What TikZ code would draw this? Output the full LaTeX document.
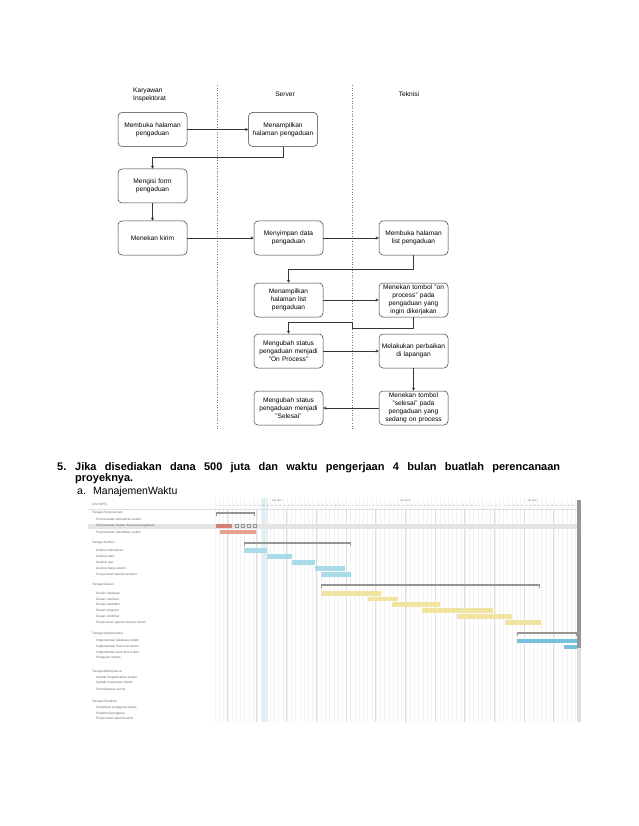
\documentclass[tikz,border=0pt]{standalone}
\usepackage{fontspec}
\setmainfont{Liberation Sans}
\usetikzlibrary{arrows.meta, positioning}
\definecolor{garis}{RGB}{55,55,55}
\definecolor{lajur}{RGB}{120,120,120}
\definecolor{kisi}{RGB}{242,242,242}
\definecolor{kisitua}{RGB}{222,222,222}
\definecolor{hariini}{RGB}{222,240,245}
\definecolor{ringkas}{RGB}{150,150,150}
\definecolor{biru}{RGB}{170,220,232}
\definecolor{birutua}{RGB}{120,192,222}
\definecolor{kuning}{RGB}{240,228,160}
\definecolor{salem}{RGB}{232,160,142}
\definecolor{salemtua}{RGB}{210,130,115}
\definecolor{sorot}{RGB}{228,228,228}
\definecolor{teksgantt}{RGB}{105,105,105}

% batang tugas dan batang ringkasan pada gantt
\newcommand{\tugas}[4]{\fill[#4] (#1,#3-2.4) rectangle (#2,#3+2.4);}
\newcommand{\ringkasan}[3]{%
  \fill[ringkas] (#1,#3-1) rectangle (#2,#3+1);
  \fill[ringkas] (#1,#3-1) rectangle (#1+1,#3+2.5);
  \fill[ringkas] (#2-1,#3-1) rectangle (#2,#3+2.5);}

\begin{document}
\begin{tikzpicture}[x=1pt, y=-1pt, >=Stealth,
  langkah/.style={draw=garis, line width=0.5pt, rounded corners=4pt, fill=white,
    minimum width=69pt, minimum height=34pt, text width=66pt, inner sep=1pt,
    align=center, font=\fontsize{6.6}{7.9}\selectfont},
  panah/.style={-{Stealth[length=3pt,width=3pt]}, garis, line width=0.5pt},
  judul/.style={font=\fontsize{6.6}{7.9}\selectfont, align=left},
  label/.style={anchor=west, inner sep=0, text=teksgantt, font=\fontsize{3.2}{3.4}\selectfont}]
\useasboundingbox (0,0) rectangle (638,826);

% =============================================================================
% SWIMLANE
% =============================================================================
\draw[lajur, dotted, line width=0.6pt] (217.5,85) -- (217.5,430);
\draw[lajur, dotted, line width=0.6pt] (352,85) -- (352,430);

\node[judul, anchor=north west, inner sep=0] (karyawan) at (133,88) {Karyawan\\Inspektorat};
\node[judul] (server) at (285,94) {Server};
\node[judul] (teknisi) at (409,94) {Teknisi};

% Karyawan Inspektorat
\node[langkah] (buka) at (152.5,129.5) {Membuka halaman\\pengaduan};
\node[langkah] (isi) at (152.5,186) {Mengisi form\\pengaduan};
\node[langkah] (kirim) at (152.5,238) {Menekan kirim};

% Server
\node[langkah] (tampil) at (283,129.5) {Menampilkan\\halaman pengaduan};
\node[langkah] (simpan) at (288.5,238) {Menyimpan data\\pengaduan};
\node[langkah] (tampillist) at (288.5,300) {Menampilkan\\halaman list\\pengaduan};
\node[langkah] (ubahon) at (288.5,351) {Mengubah status\\pengaduan menjadi\\"On Process"};
\node[langkah] (ubahselesai) at (288.5,408) {Mengubah status\\pengaduan menjadi\\"Selesai"};

% Teknisi
\node[langkah] (list) at (413.5,238) {Membuka halaman\\list pengaduan};
\node[langkah] (onproc) at (413.5,300) {Menekan tombol "on\\process" pada\\pengaduan yang\\ingin dikerjakan};
\node[langkah] (perbaikan) at (413.5,351) {Melakukan perbaikan\\di lapangan};
\node[langkah] (selesai) at (413.5,408) {Menekan tombol\\"selesai" pada\\pengaduan yang\\sedang on process};

% Alur
\coordinate (belok1) at (352,328);
\coordinate (belok2) at (352,322);
\draw[panah] (buka) -- (tampil);
\draw[panah] (tampil.south) -- ++(0,11) -| (isi.north);
\draw[panah] (isi) -- (kirim);
\draw[panah] (kirim) -- (simpan);
\draw[panah] (simpan) -- (list);
\draw[panah] (list.south) -- ++(0,14) -| (tampillist.north);
\draw[panah] (tampillist) -- (onproc);
\draw[panah] (onproc.south) |- (belok1) -- (belok2) -| (ubahon.north);
\draw[panah] (ubahon) -- (perbaikan);
\draw[panah] (perbaikan) -- (selesai);
\draw[panah] (selesai) -- (ubahselesai);

% =============================================================================
% SOAL
% =============================================================================
\node[anchor=base west, inner sep=0, font=\bfseries\fontsize{11}{11.8}\selectfont] (nomor) at (57,470) {5.};
\node[anchor=base west, inner sep=0, text width=485pt, align=justify,
  font=\bfseries\fontsize{11}{11.8}\selectfont] (soal) at (75,470)
  {Jika disediakan dana 500 juta dan waktu pengerjaan 4 bulan buatlah perencanaan\linebreak proyeknya.};
\node[anchor=base west, inner sep=0, font=\fontsize{10.5}{12}\selectfont] (poin) at (77,494) {a.};
\node[anchor=base west, inner sep=0, font=\fontsize{10.5}{12}\selectfont] (waktu) at (93,494) {ManajemenWaktu};

% =============================================================================
% GANTT CHART
% =============================================================================
% hari ini
\fill[hariini] (262,498) rectangle (268,722);
% kisi harian dan mingguan
\foreach \i in {0,...,85} {
    \draw[kisi, line width=0.4pt] (215+\i*4.24,498) -- (215+\i*4.24,722);
    \pgfmathtruncatemacro\dn{\i<31 ? \i+1 : (\i<61 ? \i-30 : \i-60)}
    \node[inner sep=0, text=teksgantt, font=\fontsize{1.8}{2}\selectfont] at (217.1+\i*4.24,506) {\dn};
}
\foreach \k in {0,...,11} {
    \draw[kisitua, line width=0.5pt] (227+\k*29.7,509) -- (227+\k*29.7,722);
}
\draw[kisitua, line width=0.4pt] (88,509.5) -- (579,509.5);
\node[inner sep=0, text=teksgantt, font=\fontsize{2.2}{3}\selectfont] (mei) at (277,500.5) {May 2018};
\node[inner sep=0, text=teksgantt, font=\fontsize{2.2}{3}\selectfont] (juni) at (405,500.5) {June 2018};
\node[inner sep=0, text=teksgantt, font=\fontsize{2.2}{3}\selectfont] (juli) at (532,500.5) {July 2018};
\node[label] (unit) at (92,504) {Unit WPTL};

% baris sorot
\fill[sorot] (88,523.5) rectangle (577,528.7);

% Kelompok 1
\node[label] at (92,513) {Tenaga Perencanaan};
\node[label] at (96,519.5) {Perencanaan kebutuhan sistem};
\node[label] at (96,526) {Perencanaan sistem dan alur pengaduan};
\node[label] at (96,532) {Perencanaan identifikasi sistem};
\ringkasan{216}{255}{513}
\tugas{216}{232}{526}{salemtua}
\foreach \x in {235,241,247,253} {\draw[ringkas, line width=0.3pt] (\x,524.5) rectangle (\x+3,527.5);}
\tugas{220}{256}{532}{salem}

% Kelompok 2
\node[label] at (92,543) {Tenaga Analisis};
\node[label] at (96,550.5) {Analisis kebutuhan};
\node[label] at (96,556.5) {Analisis data};
\node[label] at (96,562.5) {Analisis alur};
\node[label] at (96,568.5) {Analisis biaya sistem};
\node[label] at (96,574.5) {Penyusunan laporan analisis};
\ringkasan{244}{351}{543}
\tugas{244}{267}{550.5}{biru}
\tugas{267}{292}{556.5}{biru}
\tugas{292}{315}{562.5}{biru}
\tugas{315}{345}{568.5}{biru}
\tugas{321}{351}{574.5}{biru}

% Kelompok 3
\node[label] at (92,585) {Tenaga Desain};
\node[label] at (96,593.5) {Desain database};
\node[label] at (96,599) {Desain interface};
\node[label] at (96,604.5) {Desain arsitektur};
\node[label] at (96,610.5) {Desain program};
\node[label] at (96,616.5) {Desain workflow};
\node[label] at (96,622.5) {Penyusunan laporan desain sistem};
\ringkasan{321}{540}{585}
\tugas{321}{381}{593.5}{kuning}
\tugas{368}{398}{599}{kuning}
\tugas{392}{440}{604.5}{kuning}
\tugas{422}{493}{610.5}{kuning}
\tugas{457}{512}{616.5}{kuning}
\tugas{505}{541}{622.5}{kuning}

% Kelompok 4
\node[label] at (92,634) {Tenaga Implementasi};
\node[label] at (96,641) {Implementasi database sistem};
\node[label] at (96,646.5) {Implementasi front end sistem};
\node[label] at (96,652.5) {Implementasi back end sistem};
\node[label] at (96,658) {Pengujian sistem};
\ringkasan{517}{577}{633}
\tugas{517}{577}{641}{birutua}
\fill[birutua] (564,645) rectangle (577,649);

% Kelompok 5
\node[label] at (92,672) {Tenaga Maintenance};
\node[label] at (96,677.5) {Update fungsionalitas sistem};
\node[label] at (96,683) {Update keamanan sistem};
\node[label] at (96,689) {Pemeliharaan server};

% Kelompok 6
\node[label] at (92,702) {Tenaga Pelatihan};
\node[label] at (96,708) {Sosialisasi pengguna sistem};
\node[label] at (96,713.5) {Pelatihan pengguna};
\node[label] at (96,719) {Penyusunan laporan akhir};

% batas kanan
\fill[ringkas] (577,500) rectangle (581,648);
\fill[kisitua] (577,648) rectangle (581,722);

\end{tikzpicture}
\end{document}
